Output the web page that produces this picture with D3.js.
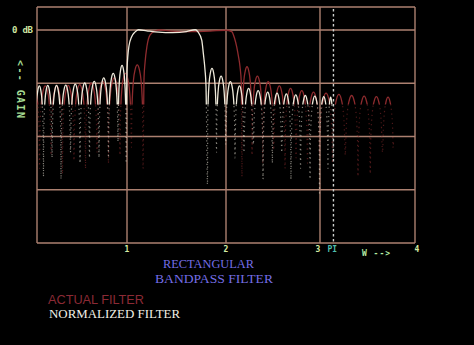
<!DOCTYPE html>
<html lang="en">
<head>
<meta charset="UTF-8">
<title>Rectangular Bandpass Filter</title>
<script src="https://cdnjs.cloudflare.com/ajax/libs/d3/7.8.5/d3.min.js"></script>
<style>
    body { margin: 0; background: #000; }
    svg { display: block; }
</style>
</head>
<body>
<div id="chart"></div>
<script>
// axis values: W from 0 to 4, gain in dB
const gridW = [0, 1, 2, 3, 4];
const gridDb = [-80, -60, -40, -20, 0];
const tickW = [1, 2, 3, 4];
const tickLabels = ["1", "2", "3", "4"];

// normalized filter (white): sidelobe nulls, lobe peaks, null depths, passband
const normLeftNulls = [-0.02, 0.072, 0.167, 0.267, 0.372, 0.478, 0.583, 0.689, 0.794, 0.9, 0.99];
const normLeftPeaks = [-21.0, -20.8, -20.8, -20.7, -20.3, -19.9, -19.3, -18.0, -16.3, -13.3];
const normLeftDepths = [-50, -55, -48, -56, -46, -50, -48, -48, -48, -42, -50];
const normPass = [[1.0, -15], [1.02, -6], [1.047, -2.5], [1.08, -0.8], [1.115, 0.1], [1.2, -0.3],
    [1.32, -0.8], [1.46, -1.0], [1.6, -0.6], [1.69, 0.1], [1.717, -0.7], [1.755, -3.8],
    [1.771, -8.8], [1.788, -15], [1.798, -21]];
const normRightNulls = [1.813, 1.904, 1.997, 2.096, 2.191, 2.290, 2.394, 2.493, 2.593, 2.691,
    2.793, 2.894, 2.995, 3.084, 3.14];
const normRightPeaks = [-14.4, -17.3, -19.4, -21.0, -21.9, -22.8, -23.3, -23.7, -24.0, -24.4,
    -24.6, -24.8, -25.0, -25.2];
const normRightDepths = [-58, -46, -43, -48, -46, -43, -56, -50, -46, -56, -52, -56, -62, -52, -48];

// actual filter (red)
const actLeftNulls = [-0.1, 0.028, 0.156, 0.283, 0.411, 0.539, 0.667, 0.794, 0.922, 1.045, 1.162];
const actLeftPeaks = [-21.2, -21.0, -21.0, -20.8, -20.5, -20.0, -19.3, -18.0, -16.3, -13.1];
const actLeftDepths = [-50, -52, -47, -54, -49, -52, -46, -50, -47, -44, -52];
const actPass = [[1.172, -18], [1.182, -12.4], [1.202, -6], [1.232, -1.9], [1.283, -0.4],
    [1.333, 0], [1.45, -0.4], [1.64, -0.6], [1.84, -0.4], [2.0, -0.1], [2.061, -0.6],
    [2.09, -3], [2.114, -6.3], [2.133, -10], [2.149, -13.8], [2.163, -20]];
const actRightNulls = [2.170, 2.277, 2.391, 2.507, 2.628, 2.745, 2.867, 2.995, 3.132, 3.266,
    3.4, 3.529, 3.658, 3.774];
const actRightPeaks = [-13.8, -17.3, -19.4, -21.0, -21.9, -22.8, -23.3, -23.7, -24.2, -24.6,
    -24.8, -25.0, -25.2];
const actRightDepths = [-55, -47, -50, -45, -52, -48, -50, -47, -50, -47, -55, -54, -46, -42];

// shape of one sidelobe: position across the lobe, dB below its peak
const lobeShape = [[0.03, -19], [0.08, -12], [0.18, -5.5], [0.32, -1.7], [0.5, 0],
    [0.68, -1.7], [0.82, -5.5], [0.92, -12], [0.97, -19]];

const width = 474, height = 345;
const plotTop = 7, plotBottom = 243;
const solidLimit = -28; // below this the trace is only scattered points

const svg = d3.select("#chart").append("svg")
    .attr("width", width)
    .attr("height", height)
    .style("background", "#000");

// the photographed grid is a little uneven, so map each unit separately
const x = d3.scaleLinear().domain(gridW).range([37, 127, 226, 320, 415]);
const y = d3.scaleLinear().domain([-80, 0]).range([plotBottom, 30]);

const defs = svg.append("defs");
defs.append("clipPath").attr("id", "upper").append("rect")
    .attr("x", x(0)).attr("y", plotTop)
    .attr("width", x(4) - x(0)).attr("height", y(solidLimit) - plotTop);
defs.append("clipPath").attr("id", "lower").append("rect")
    .attr("x", x(0)).attr("y", y(solidLimit))
    .attr("width", x(4) - x(0)).attr("height", plotBottom - y(solidLimit));

// grid
const gridColor = "#ac8070";
svg.append("g").selectAll("line").data(gridW).join("line")
    .attr("x1", d => x(d)).attr("x2", d => x(d))
    .attr("y1", plotTop).attr("y2", plotBottom)
    .attr("stroke", gridColor).attr("stroke-width", 1.4);
svg.append("g").selectAll("line").data([...gridDb, null]).join("line")
    .attr("x1", x(0)).attr("x2", x(4))
    .attr("y1", d => d === null ? plotTop : y(d))
    .attr("y2", d => d === null ? plotTop : y(d))
    .attr("stroke", gridColor).attr("stroke-width", 1.4);

function addLobes(pts, nulls, peaks, depths) {
    for (let i = 0; i < peaks.length; i++) {
        const a = nulls[i], b = nulls[i + 1];
        if (i === 0) pts.push([a, depths[0]]);
        lobeShape.forEach(([t, d]) => pts.push([a + (b - a) * t, peaks[i] + d]));
        pts.push([b, depths[i + 1]]);
    }
}

function buildCurve(lN, lP, lD, pass, rN, rP, rD) {
    const pts = [];
    addLobes(pts, lN, lP, lD);
    pass.forEach(p => pts.push(p));
    addLobes(pts, rN, rP, rD);
    return pts;
}

const line = d3.line()
    .x(d => x(d[0]))
    .y(d => y(d[1]))
    .curve(d3.curveMonotoneX);

function drawCurve(pts, color) {
    const g = svg.append("g");
    g.append("path")
        .attr("d", line(pts))
        .attr("clip-path", "url(#lower)")
        .attr("fill", "none")
        .attr("stroke", color)
        .attr("stroke-width", 1.2)
        .attr("stroke-dasharray", "1.2,3.5")
        .attr("opacity", 0.55);
    g.append("path")
        .attr("d", line(pts))
        .attr("clip-path", "url(#upper)")
        .attr("fill", "none")
        .attr("stroke", color)
        .attr("stroke-width", 1.3);
}

drawCurve(buildCurve(actLeftNulls, actLeftPeaks, actLeftDepths, actPass,
    actRightNulls, actRightPeaks, actRightDepths), "#8e2b2e");
drawCurve(buildCurve(normLeftNulls, normLeftPeaks, normLeftDepths, normPass,
    normRightNulls, normRightPeaks, normRightDepths), "#efeadb");

// dashed line at W = PI
svg.append("line")
    .attr("x1", x(Math.PI)).attr("x2", x(Math.PI))
    .attr("y1", plotTop + 2).attr("y2", plotBottom)
    .attr("stroke", "#cfd2d0")
    .attr("stroke-width", 1.4)
    .attr("stroke-dasharray", "2.5,2.5");

// axis labels
const mono = "'DejaVu Sans Mono', monospace";
svg.append("g").selectAll("text").data(tickW).join("text")
    .attr("x", d => d === 3 ? x(d) - 2 : x(d) + (d === 4 ? 2 : 0))
    .attr("y", 252)
    .attr("text-anchor", "middle")
    .attr("font-family", mono)
    .attr("font-size", 8)
    .attr("font-weight", "bold")
    .attr("fill", "#d6eca4")
    .text((d, i) => tickLabels[i]);

svg.append("text")
    .attr("x", x(Math.PI) - 6).attr("y", 252)
    .attr("font-family", mono).attr("font-size", 8).attr("font-weight", "bold")
    .attr("fill", "#4fbfae")
    .text("PI");

svg.append("text")
    .attr("x", 362).attr("y", 256)
    .attr("font-family", mono).attr("font-size", 8).attr("font-weight", "bold")
    .attr("fill", "#b6eea4")
    .attr("textLength", 28)
    .text("W -->");

svg.append("text")
    .attr("x", 12).attr("y", 33)
    .attr("font-family", mono).attr("font-size", 9).attr("font-weight", "bold")
    .attr("fill", "#d0e8a2")
    .attr("textLength", 21)
    .text("0 dB");

svg.append("text")
    .attr("transform", "translate(17,60) rotate(90)")
    .attr("font-family", mono).attr("font-size", 10).attr("font-weight", "bold")
    .attr("letter-spacing", 1.4)
    .attr("fill", "#a6dc94")
    .text("<-- GAIN");

// titles
const serif = "'Liberation Serif', 'DejaVu Serif', serif";
svg.append("text")
    .attr("x", 163).attr("y", 268)
    .attr("font-family", serif).attr("font-size", 13)
    .attr("fill", "#756ee6")
    .attr("textLength", 91).attr("lengthAdjust", "spacingAndGlyphs")
    .text("RECTANGULAR");
svg.append("text")
    .attr("x", 155).attr("y", 283)
    .attr("font-family", serif).attr("font-size", 13)
    .attr("fill", "#756ee6")
    .attr("textLength", 118).attr("lengthAdjust", "spacingAndGlyphs")
    .text("BANDPASS FILTER");

svg.append("text")
    .attr("x", 48).attr("y", 304)
    .attr("font-family", "'Liberation Sans', Arial, sans-serif").attr("font-size", 13)
    .attr("fill", "#8b2a35")
    .attr("textLength", 96).attr("lengthAdjust", "spacingAndGlyphs")
    .text("ACTUAL FILTER");
svg.append("text")
    .attr("x", 49).attr("y", 318)
    .attr("font-family", serif).attr("font-size", 12)
    .attr("fill", "#f2f0e6")
    .attr("textLength", 131).attr("lengthAdjust", "spacingAndGlyphs")
    .text("NORMALIZED FILTER");
</script>
</body>
</html>
